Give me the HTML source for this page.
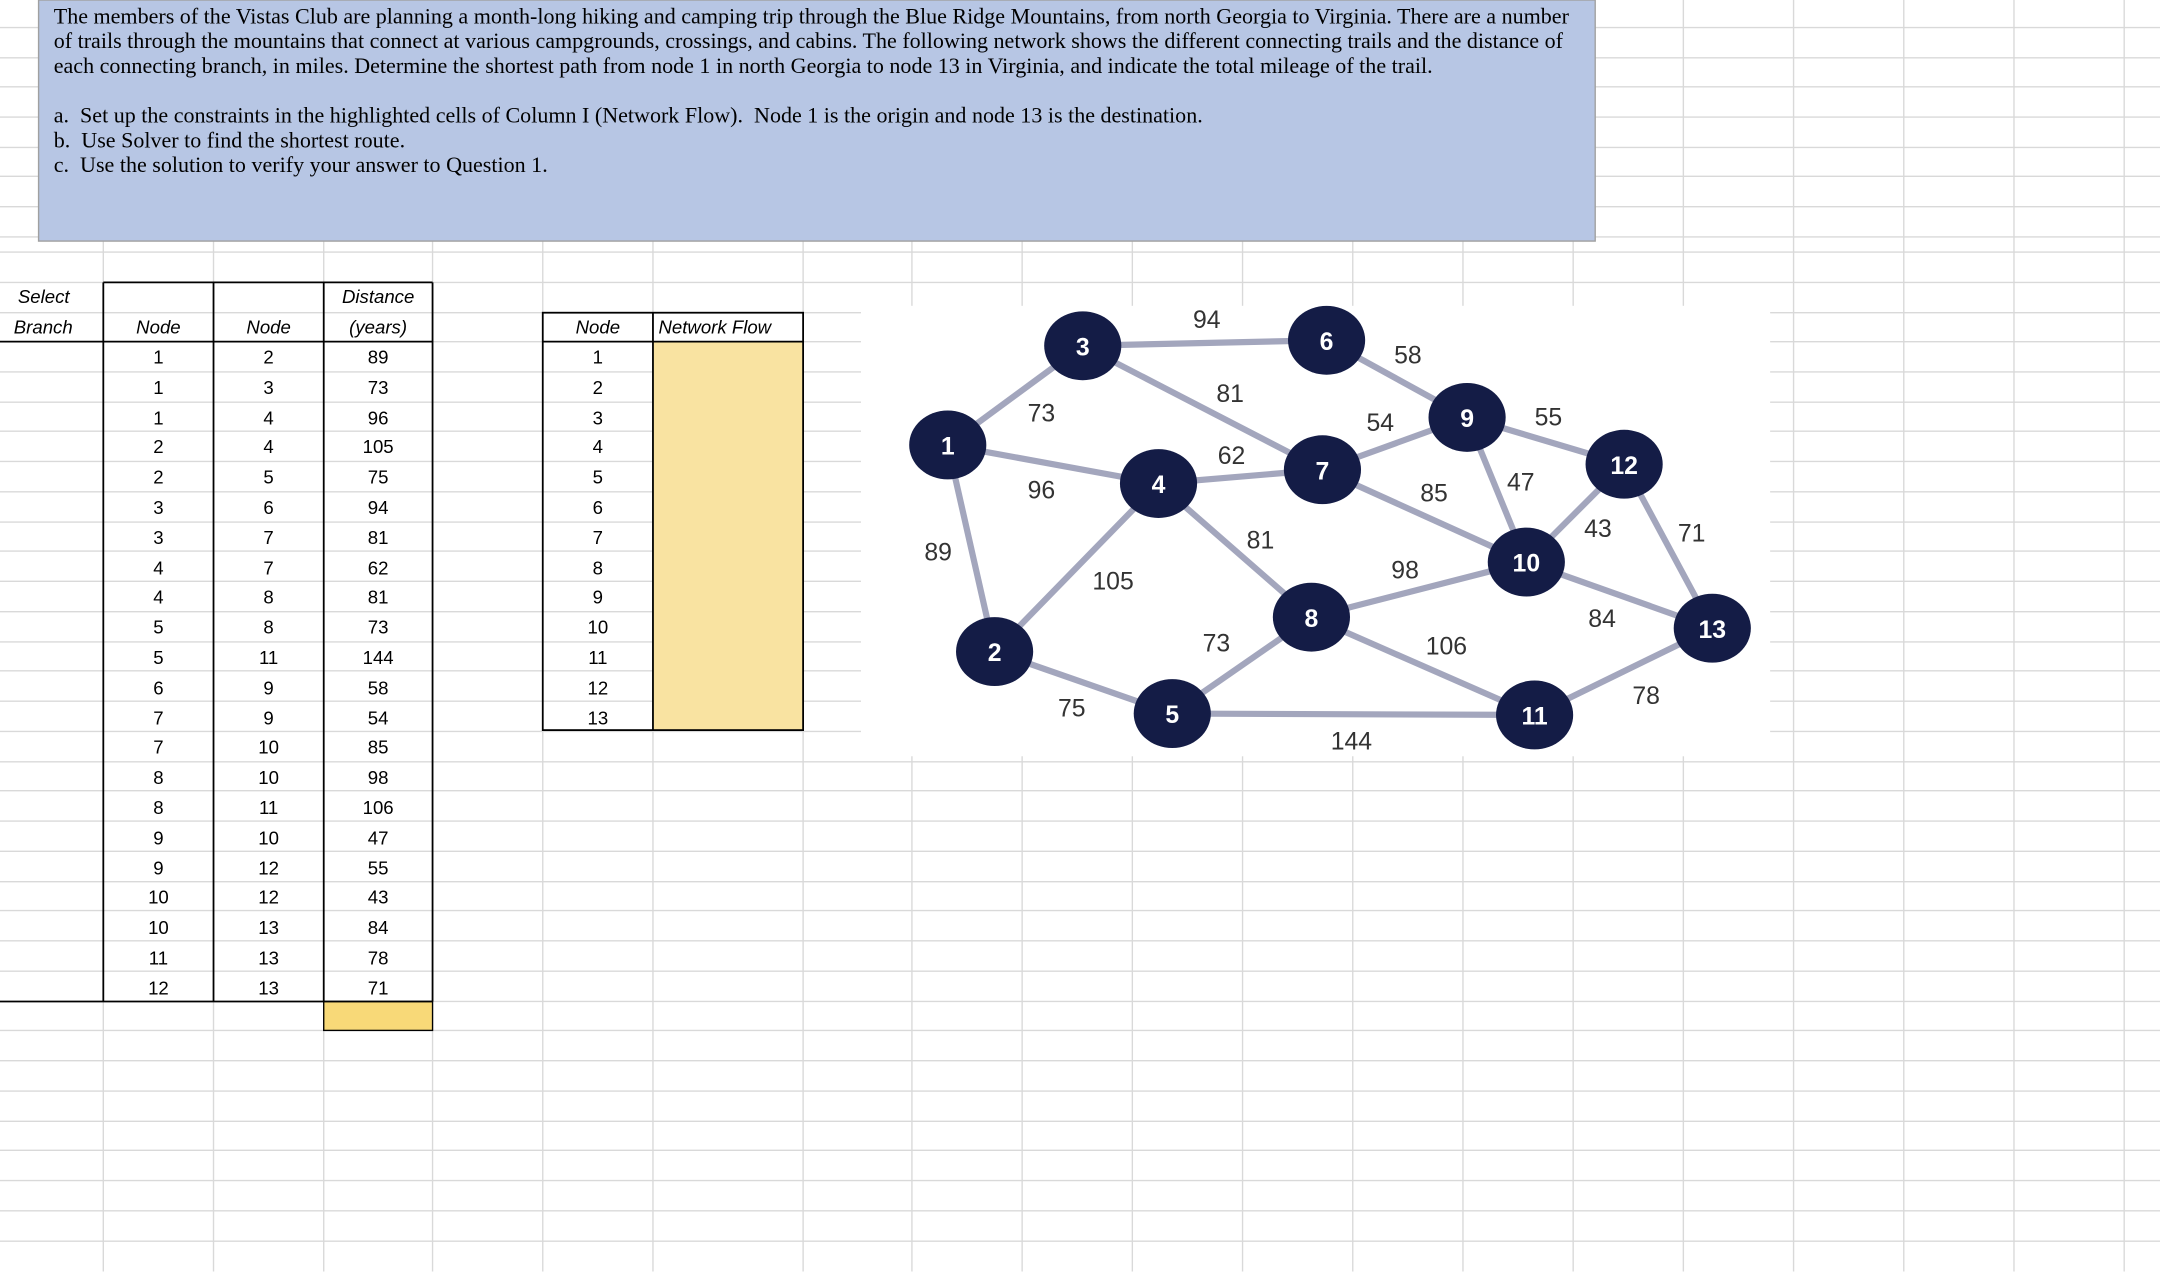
<!DOCTYPE html>
<html><head><meta charset="utf-8"><style>
html,body{margin:0;padding:0;background:#fff;}
#w{width:1568px;height:923px;position:relative;transform:scale(1.37755);transform-origin:0 0;overflow:hidden;font-family:"Liberation Sans",sans-serif;}
.t{position:absolute;font-size:13.5px;color:#000;}
.c{text-align:center;}
.i{font-style:italic;}
</style></head><body><div id="w">
<svg width="1568" height="923" style="position:absolute;left:0;top:0">
<g stroke="#d9d9d9" stroke-width="1">
<line x1="0" y1="20" x2="1568" y2="20"/><line x1="0" y1="42" x2="1568" y2="42"/><line x1="0" y1="63" x2="1568" y2="63"/><line x1="0" y1="85" x2="1568" y2="85"/><line x1="0" y1="107" x2="1568" y2="107"/><line x1="0" y1="128" x2="1568" y2="128"/><line x1="0" y1="150" x2="1568" y2="150"/><line x1="0" y1="172" x2="1568" y2="172"/><line x1="0" y1="183" x2="1568" y2="183"/><line x1="0" y1="205" x2="1568" y2="205"/><line x1="0" y1="227" x2="1568" y2="227"/><line x1="0" y1="248" x2="1568" y2="248"/><line x1="0" y1="270" x2="1568" y2="270"/><line x1="0" y1="292" x2="1568" y2="292"/><line x1="0" y1="313" x2="1568" y2="313"/><line x1="0" y1="335" x2="1568" y2="335"/><line x1="0" y1="357" x2="1568" y2="357"/><line x1="0" y1="379" x2="1568" y2="379"/><line x1="0" y1="400" x2="1568" y2="400"/><line x1="0" y1="422" x2="1568" y2="422"/><line x1="0" y1="444" x2="1568" y2="444"/><line x1="0" y1="466" x2="1568" y2="466"/><line x1="0" y1="487" x2="1568" y2="487"/><line x1="0" y1="509" x2="1568" y2="509"/><line x1="0" y1="531" x2="1568" y2="531"/><line x1="0" y1="553" x2="1568" y2="553"/><line x1="0" y1="574" x2="1568" y2="574"/><line x1="0" y1="596" x2="1568" y2="596"/><line x1="0" y1="618" x2="1568" y2="618"/><line x1="0" y1="640" x2="1568" y2="640"/><line x1="0" y1="661" x2="1568" y2="661"/><line x1="0" y1="683" x2="1568" y2="683"/><line x1="0" y1="705" x2="1568" y2="705"/><line x1="0" y1="727" x2="1568" y2="727"/><line x1="0" y1="748" x2="1568" y2="748"/><line x1="0" y1="770" x2="1568" y2="770"/><line x1="0" y1="792" x2="1568" y2="792"/><line x1="0" y1="814" x2="1568" y2="814"/><line x1="0" y1="835" x2="1568" y2="835"/><line x1="0" y1="857" x2="1568" y2="857"/><line x1="0" y1="879" x2="1568" y2="879"/><line x1="0" y1="901" x2="1568" y2="901"/>
<line x1="75" y1="0" x2="75" y2="923"/><line x1="155" y1="0" x2="155" y2="923"/><line x1="235" y1="0" x2="235" y2="923"/><line x1="314" y1="0" x2="314" y2="923"/><line x1="394" y1="0" x2="394" y2="923"/><line x1="474" y1="0" x2="474" y2="923"/><line x1="583" y1="0" x2="583" y2="923"/><line x1="662" y1="0" x2="662" y2="923"/><line x1="742" y1="0" x2="742" y2="923"/><line x1="822" y1="0" x2="822" y2="923"/><line x1="902" y1="0" x2="902" y2="923"/><line x1="982" y1="0" x2="982" y2="923"/><line x1="1062" y1="0" x2="1062" y2="923"/><line x1="1142" y1="0" x2="1142" y2="923"/><line x1="1222" y1="0" x2="1222" y2="923"/><line x1="1302" y1="0" x2="1302" y2="923"/><line x1="1382" y1="0" x2="1382" y2="923"/><line x1="1462" y1="0" x2="1462" y2="923"/><line x1="1542" y1="0" x2="1542" y2="923"/>
</g>
<rect x="28" y="0" width="1130" height="175" fill="#b7c6e4" stroke="#a0a0a0"/>
<rect x="0" y="249" width="314" height="478" fill="#fff"/>
<rect x="394" y="249" width="189" height="281" fill="#fff"/>
<rect x="474" y="248" width="109" height="282" fill="#f9e3a1"/>
<rect x="235" y="727" width="79" height="21" fill="#f8d978" stroke="#000"/>
<g stroke="#d9d9d9">
<line x1="0" y1="270" x2="314" y2="270"/><line x1="0" y1="292" x2="314" y2="292"/><line x1="0" y1="313" x2="314" y2="313"/><line x1="0" y1="335" x2="314" y2="335"/><line x1="0" y1="357" x2="314" y2="357"/><line x1="0" y1="379" x2="314" y2="379"/><line x1="0" y1="400" x2="314" y2="400"/><line x1="0" y1="422" x2="314" y2="422"/><line x1="0" y1="444" x2="314" y2="444"/><line x1="0" y1="466" x2="314" y2="466"/><line x1="0" y1="487" x2="314" y2="487"/><line x1="0" y1="509" x2="314" y2="509"/><line x1="0" y1="531" x2="314" y2="531"/><line x1="0" y1="553" x2="314" y2="553"/><line x1="0" y1="574" x2="314" y2="574"/><line x1="0" y1="596" x2="314" y2="596"/><line x1="0" y1="618" x2="314" y2="618"/><line x1="0" y1="640" x2="314" y2="640"/><line x1="0" y1="661" x2="314" y2="661"/><line x1="0" y1="683" x2="314" y2="683"/><line x1="0" y1="705" x2="314" y2="705"/>
<line x1="394" y1="270" x2="474" y2="270"/><line x1="394" y1="292" x2="474" y2="292"/><line x1="394" y1="313" x2="474" y2="313"/><line x1="394" y1="335" x2="474" y2="335"/><line x1="394" y1="357" x2="474" y2="357"/><line x1="394" y1="379" x2="474" y2="379"/><line x1="394" y1="400" x2="474" y2="400"/><line x1="394" y1="422" x2="474" y2="422"/><line x1="394" y1="444" x2="474" y2="444"/><line x1="394" y1="466" x2="474" y2="466"/><line x1="394" y1="487" x2="474" y2="487"/><line x1="394" y1="509" x2="474" y2="509"/>
</g>
<g stroke="#000" stroke-width="1.3" fill="none">
<line x1="0" y1="248" x2="314" y2="248"/><line x1="0" y1="727" x2="314" y2="727"/>
<line x1="75" y1="205" x2="314" y2="205"/>
<line x1="75" y1="205" x2="75" y2="727"/><line x1="155" y1="205" x2="155" y2="727"/><line x1="235" y1="205" x2="235" y2="727"/><line x1="314" y1="205" x2="314" y2="727"/>
<rect x="394" y="227" width="189" height="303"/><line x1="394" y1="248" x2="583" y2="248"/><line x1="474" y1="227" x2="474" y2="530"/>
</g>
<rect x="625" y="222" width="660" height="327" fill="#fff"/>
<g stroke="#a3a6bd" stroke-width="4.5">
<line x1="688" y1="323" x2="786" y2="251"/><line x1="688" y1="323" x2="841" y2="351"/><line x1="688" y1="323" x2="722" y2="473"/>
<line x1="722" y1="473" x2="841" y2="351"/><line x1="722" y1="473" x2="851" y2="518"/>
<line x1="786" y1="251" x2="963" y2="247"/><line x1="786" y1="251" x2="960" y2="341"/>
<line x1="841" y1="351" x2="960" y2="341"/><line x1="841" y1="351" x2="952" y2="448"/>
<line x1="851" y1="518" x2="952" y2="448"/><line x1="851" y1="518" x2="1114" y2="519"/>
<line x1="963" y1="247" x2="1065" y2="303"/><line x1="960" y1="341" x2="1065" y2="303"/><line x1="960" y1="341" x2="1108" y2="408"/>
<line x1="952" y1="448" x2="1108" y2="408"/><line x1="952" y1="448" x2="1114" y2="519"/>
<line x1="1065" y1="303" x2="1108" y2="408"/><line x1="1065" y1="303" x2="1179" y2="337"/>
<line x1="1108" y1="408" x2="1179" y2="337"/><line x1="1108" y1="408" x2="1243" y2="456"/>
<line x1="1114" y1="519" x2="1243" y2="456"/><line x1="1179" y1="337" x2="1243" y2="456"/>
</g>
<g fill="#141c46">
<ellipse cx="688" cy="323" rx="28" ry="25"/><ellipse cx="722" cy="473" rx="28" ry="25"/><ellipse cx="786" cy="251" rx="28" ry="25"/><ellipse cx="841" cy="351" rx="28" ry="25"/><ellipse cx="851" cy="518" rx="28" ry="25"/><ellipse cx="963" cy="247" rx="28" ry="25"/><ellipse cx="960" cy="341" rx="28" ry="25"/><ellipse cx="952" cy="448" rx="28" ry="25"/><ellipse cx="1065" cy="303" rx="28" ry="25"/><ellipse cx="1108" cy="408" rx="28" ry="25"/><ellipse cx="1114" cy="519" rx="28" ry="25"/><ellipse cx="1179" cy="337" rx="28" ry="25"/><ellipse cx="1243" cy="456" rx="28" ry="25"/>
</g>
<g fill="#fff" font-family="Liberation Sans" font-weight="bold" font-size="18" text-anchor="middle">
<text x="688" y="330">1</text><text x="722" y="480">2</text><text x="786" y="258">3</text><text x="841" y="358">4</text><text x="851" y="525">5</text><text x="963" y="254">6</text><text x="960" y="348">7</text><text x="952" y="455">8</text><text x="1065" y="310">9</text><text x="1108" y="415">10</text><text x="1114" y="526">11</text><text x="1179" y="344">12</text><text x="1243" y="463">13</text>
</g>
<g fill="#333" font-family="Liberation Sans" font-size="18" text-anchor="middle">
<text x="876" y="238">94</text><text x="1022" y="264">58</text><text x="893" y="292">81</text><text x="756" y="306">73</text><text x="1002" y="313">54</text><text x="1124" y="309">55</text><text x="894" y="337">62</text><text x="756" y="362">96</text><text x="1041" y="364">85</text><text x="1104" y="356">47</text><text x="915" y="398">81</text><text x="1160" y="390">43</text><text x="1228" y="393">71</text><text x="681" y="407">89</text><text x="808" y="428">105</text><text x="1020" y="420">98</text><text x="1163" y="455">84</text><text x="883" y="473">73</text><text x="1050" y="475">106</text><text x="1195" y="511">78</text><text x="778" y="520">75</text><text x="981" y="544">144</text>
</g>
</svg>
<div class="t" style="left:39px;top:4px;width:1110px;font-family:'Liberation Serif',serif;font-size:16px;line-height:18px;">The members of the Vistas Club are planning a month-long hiking and camping trip through the Blue Ridge Mountains, from north Georgia to Virginia. There are a number of trails through the mountains that connect at various campgrounds, crossings, and cabins. The following network shows the different connecting trails and the distance of each connecting branch, in miles. Determine the shortest path from node 1 in north Georgia to node 13 in Virginia, and indicate the total mileage of the trail.<br><br>a.&nbsp; Set up the constraints in the highlighted cells of Column I (Network Flow).&nbsp; Node 1 is the origin and node 13 is the destination.<br>b.&nbsp; Use Solver to find the shortest route.<br>c.&nbsp; Use the solution to verify your answer to Question 1.</div>
<div class="t i" style="left:13px;top:208px;">Select</div>
<div class="t i" style="left:10px;top:230px;">Branch</div>
<div class="t i c" style="left:75px;top:230px;width:80px;">Node</div>
<div class="t i c" style="left:155px;top:230px;width:80px;">Node</div>
<div class="t i c" style="left:235px;top:208px;width:79px;">Distance</div>
<div class="t i c" style="left:235px;top:230px;width:79px;">(years)</div>
<div class="t i c" style="left:394px;top:230px;width:80px;">Node</div>
<div class="t i" style="left:478px;top:230px;">Network Flow</div>
<div class="t c" style="left:75px;top:249px;width:80px;line-height:21.8px;">1<br>1<br>1<br>2<br>2<br>3<br>3<br>4<br>4<br>5<br>5<br>6<br>7<br>7<br>8<br>8<br>9<br>9<br>10<br>10<br>11<br>12</div>
<div class="t c" style="left:155px;top:249px;width:80px;line-height:21.8px;">2<br>3<br>4<br>4<br>5<br>6<br>7<br>7<br>8<br>8<br>11<br>9<br>9<br>10<br>10<br>11<br>10<br>12<br>12<br>13<br>13<br>13</div>
<div class="t c" style="left:235px;top:249px;width:79px;line-height:21.8px;">89<br>73<br>96<br>105<br>75<br>94<br>81<br>62<br>81<br>73<br>144<br>58<br>54<br>85<br>98<br>106<br>47<br>55<br>43<br>84<br>78<br>71</div>
<div class="t c" style="left:394px;top:249px;width:80px;line-height:21.8px;">1<br>2<br>3<br>4<br>5<br>6<br>7<br>8<br>9<br>10<br>11<br>12<br>13</div>
</div></body></html>
